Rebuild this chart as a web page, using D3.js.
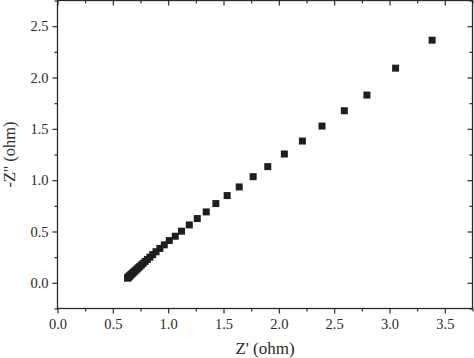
<!DOCTYPE html>
<html><head><meta charset="utf-8">
<script src="https://cdn.jsdelivr.net/npm/d3@7"></script>
<style>body{margin:0;background:#fff}svg{display:block}
svg text{font-family:"Liberation Serif","Times New Roman",Times,serif !important;}
</style>
</head><body>
<svg id="c" width="474" height="358"></svg>
<script>
const zReal = [3.385,3.055,2.796,2.592,2.390,2.213,2.050,1.900,1.768,1.642,1.533,1.431,1.344,1.263,1.191,1.121,1.064,1.010,0.965,
  0.925,0.890,0.860,0.835,0.812,0.792,0.774,0.758,0.744,0.731,0.719,0.708,0.698,0.689,0.681,0.673,0.666,0.660,0.654,0.649,0.644,0.640,0.636,0.633];
const zImag = [2.364,2.091,1.829,1.676,1.527,1.381,1.255,1.132,1.034,0.934,0.850,0.772,0.691,0.626,0.564,0.503,0.454,0.412,0.370,
  0.335,0.303,0.275,0.250,0.228,0.208,0.190,0.174,0.160,0.147,0.135,0.124,0.114,0.105,0.097,0.089,0.082,0.076,0.070,0.064,0.059,0.054,0.050,0.046];
const xTicks = [0,0.5,1.0,1.5,2.0,2.5,3.0,3.5];
const yTicks = [0,0.5,1.0,1.5,2.0,2.5];
const xMinor = [0.25,0.75,1.25,1.75,2.25,2.75,3.25,3.75];
const yMinor = [-0.25,0.25,0.75,1.25,1.75,2.25,2.75];
const xLabel = "Z' (ohm)";
const yLabel = "-Z'' (ohm)";

const svg = d3.select("#c");
const L = 57.5, R = 472.5, T = 0.5, B = 308.5;
const x = d3.scaleLinear().domain([0,3.75]).range([L,R]);
const y = d3.scaleLinear().domain([-0.25,2.75]).range([B,T]);
const col = "#2a2a2a";

svg.append("rect").attr("x",L).attr("y",T).attr("width",R-L).attr("height",B-T)
  .attr("fill","none").attr("stroke",col).attr("stroke-width",1.3);

const fmt = d3.format(".1f");
const gb = svg.append("g").attr("transform",`translate(0,${B})`)
  .call(d3.axisBottom(x).tickValues(xTicks).tickFormat(fmt).tickSize(5).tickPadding(5));
const gbm = svg.append("g").attr("transform",`translate(0,${B})`)
  .call(d3.axisBottom(x).tickValues(xMinor).tickFormat("").tickSize(3));
const gl = svg.append("g").attr("transform",`translate(${L},0)`)
  .call(d3.axisLeft(y).tickValues(yTicks).tickFormat(fmt).tickSize(5).tickPadding(4));
const glm = svg.append("g").attr("transform",`translate(${L},0)`)
  .call(d3.axisLeft(y).tickValues(yMinor).tickFormat("").tickSize(3));
const gt = svg.append("g").attr("transform",`translate(0,${T})`)
  .call(d3.axisTop(x).tickValues(xTicks).tickFormat("").tickSize(-5));
const gtm = svg.append("g").attr("transform",`translate(0,${T})`)
  .call(d3.axisTop(x).tickValues(xMinor).tickFormat("").tickSize(-3));
const gr = svg.append("g").attr("transform",`translate(${R},0)`)
  .call(d3.axisRight(y).tickValues(yTicks).tickFormat("").tickSize(-5));
const grm = svg.append("g").attr("transform",`translate(${R},0)`)
  .call(d3.axisRight(y).tickValues(yMinor).tickFormat("").tickSize(-3));

[gb,gbm,gl,glm,gt,gtm,gr,grm].forEach(g=>{
  g.attr("font-family",null);
  g.select(".domain").remove();
  g.selectAll("line").attr("stroke",col).attr("stroke-width",1.2);
  g.selectAll("text").attr("font-size",14.5).attr("fill",col);
});

const s = 7;
svg.append("g").selectAll("rect").data(zReal.map((v,i)=>[v,zImag[i]])).join("rect")
  .attr("x",d=>x(d[0])-s/2).attr("y",d=>y(d[1])-s/2)
  .attr("width",s).attr("height",s).attr("fill","#1e1e1e");

svg.append("text").attr("x",(L+R)/2).attr("y",354).attr("text-anchor","middle")
  .attr("font-size",17).attr("fill",col).text(xLabel);
svg.append("text").attr("transform",`translate(15,${(T+B)/2}) rotate(-90)`).attr("text-anchor","middle")
  .attr("font-size",16.5).attr("fill",col).text(yLabel);
</script>
</body></html>
